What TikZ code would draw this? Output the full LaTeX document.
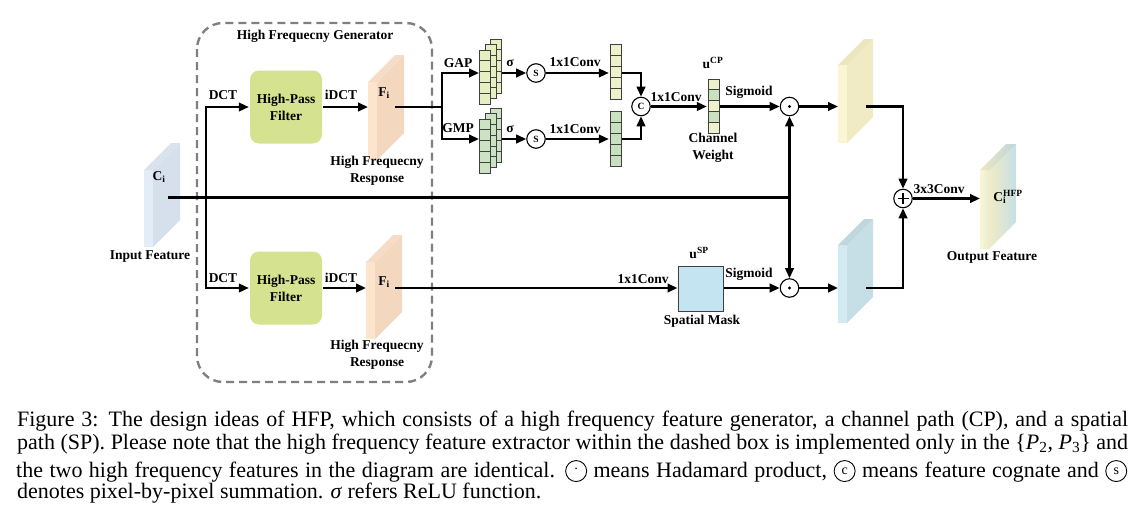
\documentclass[tikz,border=0pt]{standalone}
\usepackage{fontspec}
\setmainfont{Liberation Serif}
\usetikzlibrary{arrows.meta,calc}
\definecolor{cifront}{HTML}{E3EDF8}
\definecolor{ciside}{HTML}{D5E0EC}
\definecolor{citop}{HTML}{D9E3ED}
\definecolor{fifront}{HTML}{FDE5CD}
\definecolor{fiside}{HTML}{F3D7BF}
\definecolor{fitop}{HTML}{F6DCC6}
\definecolor{ypfront}{HTML}{FAF6D3}
\definecolor{ypside}{HTML}{F0EBC4}
\definecolor{yptop}{HTML}{EBE6C0}
\definecolor{bpfront}{HTML}{D3EAF2}
\definecolor{bpside}{HTML}{C6DFE6}
\definecolor{bptop}{HTML}{BFD6DD}
\definecolor{hpfc}{HTML}{D5E391}
\definecolor{gapc}{HTML}{E6EEC4}
\definecolor{gmpc}{HTML}{CCE3C3}
\definecolor{colyc}{HTML}{EEF2CB}
\definecolor{colgc}{HTML}{C9E1BF}
\definecolor{smc}{HTML}{C4E4F1}
\definecolor{dashc}{HTML}{7F7F7F}
\newcommand\drawplate[8]{%
 \fill[#6] (#1,#2) rectangle ({#1+#4},#3);
 \fill[#7] ({#1+#4},#2) -- ({#1+#4+#5},{#2-#5}) -- ({#1+#4+#5},{#3-#5}) -- ({#1+#4},#3) -- cycle;
 \fill[#8] (#1,#2) -- ({#1+#5},{#2-#5}) -- ({#1+#4+#5},{#2-#5}) -- ({#1+#4},#2) -- cycle;}
\newcommand\cellcol[5]{%
 \foreach \nk in {1,...,#4}{\draw[cellst,fill=#5] (#1,{#2+(\nk-1)*#3}) rectangle ({#1+11},{#2+\nk*#3});}}
\newcommand\circsym[1]{\tikz[baseline={([yshift=5pt]cs.south)}]\node[draw,circle,line width=0.9pt,inner sep=0pt,minimum size=21pt,font=\fontsize{14}{14}\selectfont](cs){#1};}
\begin{document}
\begin{tikzpicture}[x=1pt,y=-1pt,line width=2.3pt,
 arr/.style={-{Triangle[length=10pt,width=8.5pt]}},
 lbl/.style={font=\bfseries\fontsize{13.5}{17}\selectfont,inner sep=0,align=center},
 op/.style={draw,circle,line width=1.1pt,minimum size=18.5pt,inner sep=0,fill=white,font=\bfseries\fontsize{9.5}{10}\selectfont},
 cellst/.style={draw=black!75,line width=0.8pt},
 capline/.style={anchor=base west,inner sep=0,font=\fontsize{22}{23}\selectfont}]
\useasboundingbox (0,0) rectangle (1139,506);
% dashed generator box
\draw[dashc,line width=2.4pt,dash pattern=on 8pt off 5pt,rounded corners=26pt] (197,23) rectangle (432,382);
\node[lbl] (hfg) at (315,36) {High Frequecny Generator};
% plates
\drawplate{144}{170}{247}{9}{27}{cifront}{ciside}{citop}
\drawplate{368}{82}{160}{9}{27}{fifront}{fiside}{fitop}
\drawplate{366}{262}{339}{9}{27}{fifront}{fiside}{fitop}
\drawplate{838}{65}{143}{9}{26}{ypfront}{ypside}{yptop}
\drawplate{838}{245}{323}{9}{26}{bpfront}{bpside}{bptop}
% output plate with gradient
\shade[left color=ypfront,right color=ypside!70!bpfront] (980,170) rectangle (990,248);
\shade[left color=ypside,right color=bpside] (990,170) -- (1016,144) -- (1016,222) -- (990,248) -- cycle;
\shade[left color=yptop,right color=bptop] (980,170) -- (1006,144) -- (1016,144) -- (990,170) -- cycle;
% labels of plates
\node[lbl] (cilbl) at (159,177) {C\textsubscript{i}};
\node[lbl] (infeat) at (150,257) {Input Feature};
\node[lbl] (fi1lbl) at (384,93) {F\textsubscript{i}};
\node[lbl] (fi2lbl) at (384,282) {F\textsubscript{i}};
\node[lbl] (hfr1) at (377,171) {High Frequecny\\Response};
\node[lbl] (hfr2) at (377,355) {High Frequecny\\Response};
\node[lbl] (outlbl) at (1008,197) {C\rlap{\textsubscript{i}}\textsuperscript{HFP}};
\node[lbl] (outfeat) at (992,257) {Output Feature};
% high-pass filters
\node[lbl,fill=hpfc,rounded corners=9pt,minimum width=72pt,minimum height=73pt] (hpf1) at (286,107) {High-Pass\\Filter};
\node[lbl,fill=hpfc,rounded corners=9pt,minimum width=72pt,minimum height=73pt] (hpf2) at (286,288) {High-Pass\\Filter};
% feature stacks
\cellcol{490}{39}{10.8}{5}{gapc}
\cellcol{485}{44.5}{10.8}{5}{gapc}
\cellcol{479}{50}{10.8}{5}{gapc}
\cellcol{490}{108}{10.8}{5}{gmpc}
\cellcol{485}{113.5}{10.8}{5}{gmpc}
\cellcol{479}{119}{10.8}{5}{gmpc}
\cellcol{610}{44}{11}{5}{colyc}
\cellcol{610}{111}{11}{5}{colgc}
\draw[cellst,fill=colyc] (708,79) rectangle (719,89.8);
\draw[cellst,fill=colgc] (708,89.8) rectangle (719,100.6);
\draw[cellst,fill=colyc] (708,100.6) rectangle (719,111.4);
\draw[cellst,fill=colgc] (708,111.4) rectangle (719,122.2);
\draw[cellst,fill=colyc] (708,122.2) rectangle (719,133);
\node[inner sep=0,minimum width=11pt,minimum height=55pt] (col1) at (615.5,71.5) {};
\node[inner sep=0,minimum width=11pt,minimum height=55pt] (col2) at (615.5,138.5) {};
\node[inner sep=0,minimum width=11pt,minimum height=54pt] (ucp) at (713.5,106) {};
% spatial mask
\node[draw=black!75,line width=1pt,fill=smc,minimum width=45pt,minimum height=45pt,inner sep=0] (sm) at (700.5,289) {};
% operators
\node[op] (s1) at (536,73) {S};
\node[op] (s2) at (536,139) {S};
\node[op] (c) at (641,106.5) {C};
\node[op] (od1) at (789.5,106.5) {};
\fill (od1) circle (1.7pt);
\node[op] (od2) at (789.5,288) {};
\fill (od2) circle (1.7pt);
\node[op] (pl) at (903,198.5) {};
\draw[line width=1.1pt] ($(pl)+(-5.5,0)$) -- ($(pl)+(5.5,0)$) ($(pl)+(0,-5.5)$) -- ($(pl)+(0,5.5)$);
% coordinates
\coordinate (ciout) at (168,197.5);
\coordinate (jL) at (206,197.5);
\coordinate (vR) at (789.5,197.5);
\coordinate (fi1in) at (368,107);
\coordinate (fi1out) at (395,107);
\coordinate (fi2in) at (366,288);
\coordinate (fi2out) at (395,288);
\coordinate (jR) at (442,107);
\coordinate (gapin) at (479,73);
\coordinate (gmpin) at (479,139);
\coordinate (gapout) at (502,73);
\coordinate (gmpout) at (502,139);
\coordinate (ypin) at (838,106.5);
\coordinate (ypout) at (866,106.5);
\coordinate (bpin) at (838,288);
\coordinate (bpout) at (866,288);
\coordinate (opin) at (980,198.5);
% connectors
\draw (ciout) -- (vR);
\draw[arr] (jL) |- (hpf1.west);
\draw[arr] (jL) |- (hpf2.west);
\draw[arr] (hpf1.east |- fi1in) -- (fi1in);
\draw[arr] (hpf2.east |- fi2in) -- (fi2in);
\draw (fi1out) -- (jR);
\draw[arr] (jR) |- (gapin);
\draw[arr] (jR) |- (gmpin);
\draw[arr] (gapout) -- (s1.west);
\draw[arr] (gmpout) -- (s2.west);
\draw[arr] (s1.east) -- (s1 -| col1.west);
\draw[arr] (s2.east) -- (s2 -| col2.west);
\draw[arr] (col1.east |- s1) -| (c.north);
\draw[arr] (col2.east |- s2) -| (c.south);
\draw[arr] (c.east) -- (c -| ucp.west);
\draw[arr] (ucp.east |- od1) -- (od1.west);
\draw[arr] (od1.east) -- (ypin);
\draw[{Triangle[length=10pt,width=8.5pt]}-{Triangle[length=10pt,width=8.5pt]}] (od1.south) -- (od2.north);
\draw[arr] (fi2out) -- (sm.west |- fi2out);
\draw[arr] (sm.east |- od2) -- (od2.west);
\draw[arr] (od2.east) -- (bpin);
\draw[arr] (ypout) -| (pl.north);
\draw[arr] (bpout) -| (pl.south);
\draw[arr] (pl.east) -- (opin);
% connector labels
\node[lbl] (dct1) at (223,95) {DCT};
\node[lbl] (idct1) at (341,95) {iDCT};
\node[lbl] (dct2) at (223,278) {DCT};
\node[lbl] (idct2) at (341,278) {iDCT};
\node[lbl] (gaplbl) at (458,63) {GAP};
\node[lbl] (gmplbl) at (458,128) {GMP};
\node[lbl] (sig1) at (510,63) {σ};
\node[lbl] (sig2) at (510,129) {σ};
\node[lbl] (conv1) at (575,62) {1x1Conv};
\node[lbl] (conv2) at (575,129) {1x1Conv};
\node[lbl] (conv3) at (676,97) {1x1Conv};
\node[lbl] (ucplbl) at (713,63) {u\textsuperscript{CP}};
\node[lbl] (cw) at (713,148) {Channel\\Weight};
\node[lbl] (sgm1) at (749,92) {Sigmoid};
\node[lbl] (conv4) at (643,279) {1x1Conv};
\node[lbl] (usplbl) at (699,253) {u\textsuperscript{SP}};
\node[lbl] (smlbl) at (702,321) {Spatial Mask};
\node[lbl] (sgm2) at (749,274) {Sigmoid};
\node[lbl] (conv5) at (939,189) {3x3Conv};
% caption
\node[capline] (cap1) at (16,426) {\makebox[1111pt][s]{Figure 3: The design ideas of HFP, which consists of a high frequency feature generator, a channel path (CP), and a spatial}};
\node[capline] (cap2) at (16,449) {\makebox[1111pt][s]{path (SP). Please note that the high frequency feature extractor within the dashed box is implemented only in the \{\textit{P}\textsubscript{2}, \textit{P}\textsubscript{3}\} and}};
\node[capline] (cap3) at (16,477) {\makebox[1111pt][s]{the two high frequency features in the diagram are identical. \circsym{·} means Hadamard product, \circsym{c} means feature cognate and \circsym{s}}};
\node[capline] (cap4) at (16,498) {denotes pixel-by-pixel summation. \textit{σ} refers ReLU function.};
\end{tikzpicture}
\end{document}
